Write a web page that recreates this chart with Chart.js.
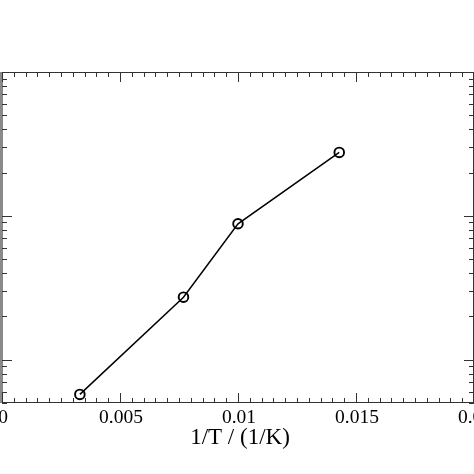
<!DOCTYPE html>
<html><head><meta charset="utf-8">
<script src="https://cdn.jsdelivr.net/npm/chart.js@4"></script>
<style>html,body{margin:0;padding:0;background:#fff}#c{display:block}</style>
</head><body>
<canvas id="c" width="474" height="474"></canvas>
<script>
const invT = [0.0033, 0.00769, 0.0100, 0.01429];
const values = [0.574, 2.72, 8.81, 27.6];
const xTickValues = [0, 0.005, 0.01, 0.015, 0.02];
const xTickLabels = ['0', '0.005', '0.01', '0.015', '0.02'];
const yDecades = [0.1, 1, 10];
const xTitle = '1/T / (1/K)';

const framePlugin = {
  id: 'frame',
  beforeDatasetsDraw(chart) {
    const ctx = chart.ctx, a = chart.chartArea;
    const xs = chart.scales.x, ys = chart.scales.y;
    ctx.save();
    ctx.strokeStyle = '#333';
    ctx.lineWidth = 1;
    ctx.strokeRect(a.left + 0.5, a.top + 0.5, a.right - a.left - 1, a.bottom - a.top - 1);
    ctx.fillStyle = '#8a8a8a';
    ctx.fillRect(0, a.top, 3, a.bottom - a.top);
    ctx.beginPath();
    xs.ticks.forEach(t => {
      const px = Math.round(xs.getPixelForValue(t.value)) + 0.5;
      const major = xTickValues.some(v => Math.abs(v - t.value) < 1e-9);
      const len = major ? 10 : 5;
      ctx.moveTo(px, a.bottom); ctx.lineTo(px, a.bottom - len);
      ctx.moveTo(px, a.top); ctx.lineTo(px, a.top + len);
    });
    yDecades.forEach(d => {
      for (let m = 1; m <= 9; m++) {
        const v = d * m;
        if (v < ys.min - 1e-12 || v > ys.max + 1e-12) continue;
        const py = Math.round(ys.getPixelForValue(v)) + 0.5;
        const len = m === 1 ? 10 : 5;
        ctx.moveTo(a.left, py); ctx.lineTo(a.left + len, py);
        ctx.moveTo(a.right, py); ctx.lineTo(a.right - len, py);
      }
    });
    ctx.stroke();
    ctx.fillStyle = '#000';
    ctx.font = '19.5px "Liberation Serif", "Times New Roman", serif';
    ctx.textAlign = 'center';
    ctx.textBaseline = 'alphabetic';
    xTickValues.forEach((v, i) => {
      ctx.fillText(xTickLabels[i], xs.getPixelForValue(v) + 1, 423);
    });
    ctx.font = '23px "Liberation Serif", "Times New Roman", serif';
    ctx.fillText(xTitle, 240, 444);
    ctx.restore();
  }
};

new Chart(document.getElementById('c'), {
  type: 'scatter',
  data: {
    datasets: [{
      data: invT.map((x, i) => ({ x: x, y: values[i] })),
      showLine: true,
      borderColor: '#000',
      borderWidth: 1.5,
      pointRadius: 4.8,
      pointBorderWidth: 1.9,
      pointBackgroundColor: 'rgba(0,0,0,0)',
      pointBorderColor: '#000',
      tension: 0
    }]
  },
  options: {
    responsive: false,
    animation: false,
    devicePixelRatio: 1,
    layout: { autoPadding: false, padding: { left: 2, right: 0, top: 72, bottom: 71 } },
    plugins: { legend: { display: false }, tooltip: { enabled: false } },
    scales: {
      x: { type: 'linear', display: false, min: 0, max: 0.02, ticks: { stepSize: 0.0005, maxTicksLimit: 200, autoSkip: false } },
      y: { type: 'logarithmic', display: false, min: 0.5, max: 100, ticks: { autoSkip: false } }
    }
  },
  plugins: [framePlugin]
});
</script>
</body></html>
